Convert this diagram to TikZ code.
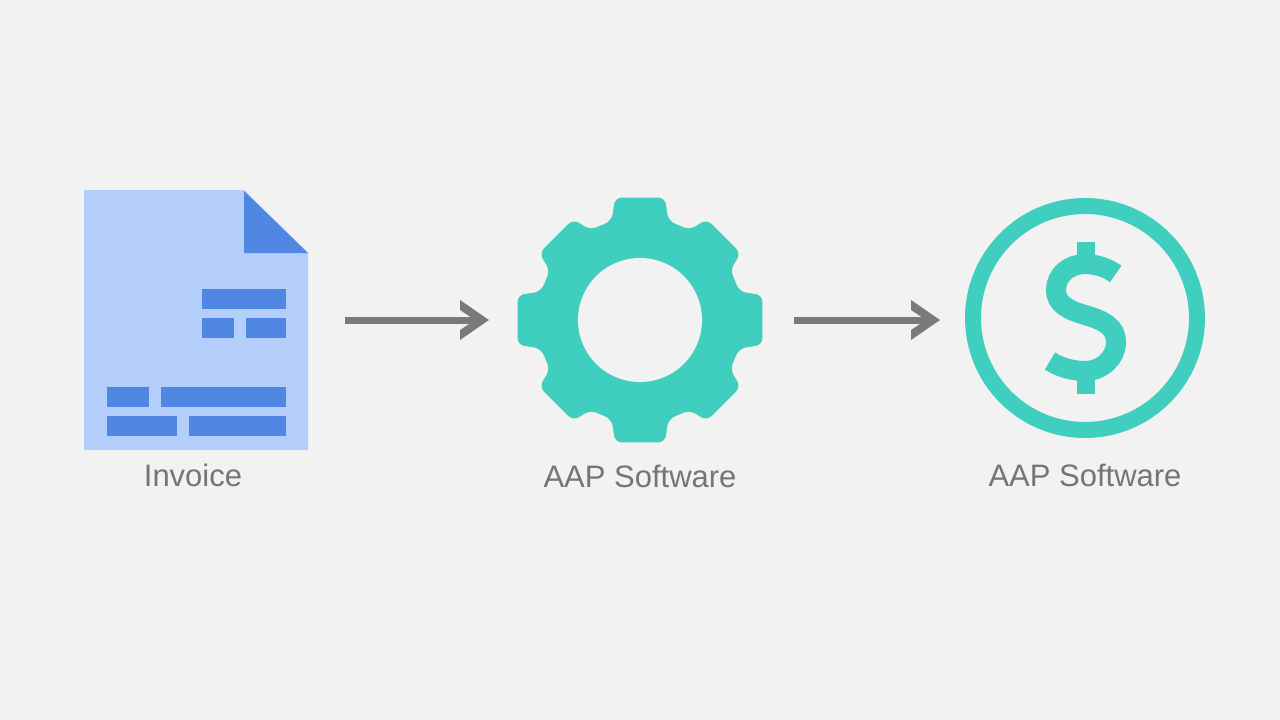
\documentclass[tikz,border=0pt]{standalone}
\usepackage{fontspec}
\setmainfont{Liberation Sans}
\usetikzlibrary{arrows.meta}

\definecolor{pagebg}{HTML}{F2F2F3}
\definecolor{sheet}{HTML}{B3CEFB}
\definecolor{sheetdark}{HTML}{5087E2}
\definecolor{teal}{HTML}{40CFBF}
\definecolor{arrowgray}{HTML}{7A7A7A}
\definecolor{labelgray}{HTML}{757575}

\pgfdeclarearrow{
  name=Chevron,
  setup code={
    \pgfarrowssettipend{0pt}
    \pgfarrowssetlineend{-14pt}
    \pgfarrowssetvisualbackend{-14pt}
    \pgfarrowssetbackend{-29pt}
    \pgfarrowshullpoint{0pt}{0pt}
    \pgfarrowshullpoint{-29pt}{20pt}
    \pgfarrowshullpoint{-29pt}{-20pt}
  },
  drawing code={
    \pgfpathmoveto{\pgfqpoint{0pt}{0pt}}
    \pgfpathlineto{\pgfqpoint{-29pt}{20pt}}
    \pgfpathlineto{\pgfqpoint{-29pt}{10pt}}
    \pgfpathlineto{\pgfqpoint{-14pt}{0pt}}
    \pgfpathlineto{\pgfqpoint{-29pt}{-10pt}}
    \pgfpathlineto{\pgfqpoint{-29pt}{-20pt}}
    \pgfpathclose
    \pgfusepathqfill
  }
}

\tikzset{
  iconlabel/.style={text=labelgray,font=\fontsize{31}{36}\selectfont,inner sep=0pt},
  iconbox/.style={minimum size=#1,inner sep=0pt,outer sep=0pt},
  flow/.style={draw=arrowgray,line width=7pt,-{Chevron[]}},
  bar/.style={fill=sheetdark}
}

\begin{document}
\begin{tikzpicture}[x=1pt,y=-1pt]
        \fill[pagebg](0,0)rectangle(1280,720);
        \useasboundingbox (0,0)rectangle(1280,720);

        % Invoice
        \node[minimum width=224pt,minimum height=260pt,inner sep=0pt,outer sep=0pt](invoice) at (196,320){};
        \fill[sheet](84,190)--(244,190)--(308,253)--(308,450)--(84,450)--cycle;
        \fill[bar](244,191)--(244,253)--(308,253)--cycle;
        \fill[bar](201.7,289.3)rectangle(286,309.3);
        \fill[bar](201.7,318)rectangle(234,338.3);
        \fill[bar](246,318)rectangle(286,338.3);
        \fill[bar](106.7,387.3)rectangle(149.3,407.3);
        \fill[bar](160.7,387.3)rectangle(286,407.3);
        \fill[bar](106.7,416)rectangle(176.7,436);
        \fill[bar](188.7,416)rectangle(286,436);
        \node[iconlabel](invoicelabel) at (193,475){Invoice};

        % Gear
        \node[iconbox=244pt,circle](gear) at (640,320){};
        \fill[teal,rounded corners=7pt,shift={(640,320)}](-22.5:103)
            \foreach \a in {0,45,...,315}{
                --(\a-16:103)--(\a-11.5:\ifodd\numexpr\a/45\relax 121\else 125\fi)
                --(\a+11.5:\ifodd\numexpr\a/45\relax 121\else 125\fi)--(\a+16:103)
            }--cycle;
        \fill[pagebg](gear.center)circle(62);
        \node[iconlabel](gearlabel) at (640,476){AAP Software};

        % Dollar
        \node[iconbox=240pt,circle](coin) at (1085,318){};
        \draw[teal,line width=16pt](coin.center)circle(112);
        \fill[teal](1076.5,241.5)rectangle(1094.5,262);
        \fill[teal](1076.5,366)rectangle(1094.5,393.5);
        \draw[teal,line width=20pt](1115.7,274)..controls(1108,268)and(1096,264)..(1085,264)
            ..controls(1069,264)and(1056,275)..(1056,290)
            ..controls(1056,304)and(1068,310)..(1085,315)
            ..controls(1102,320)and(1116,326)..(1116,342)
            ..controls(1116,358)and(1102,371)..(1085,371)
            ..controls(1072,371)and(1059,367)..(1050,361);
        \node[iconlabel](coinlabel) at (1085,475){AAP Software};

        % Arrows
        \draw[flow,shorten <=37pt,shorten >=29pt](invoice.east|-gear.west)--(gear.west);
        \draw[flow,shorten <=32pt,shorten >=25pt](gear.east)--(coin.west|-gear.east);
    \end{tikzpicture}
\end{document}
